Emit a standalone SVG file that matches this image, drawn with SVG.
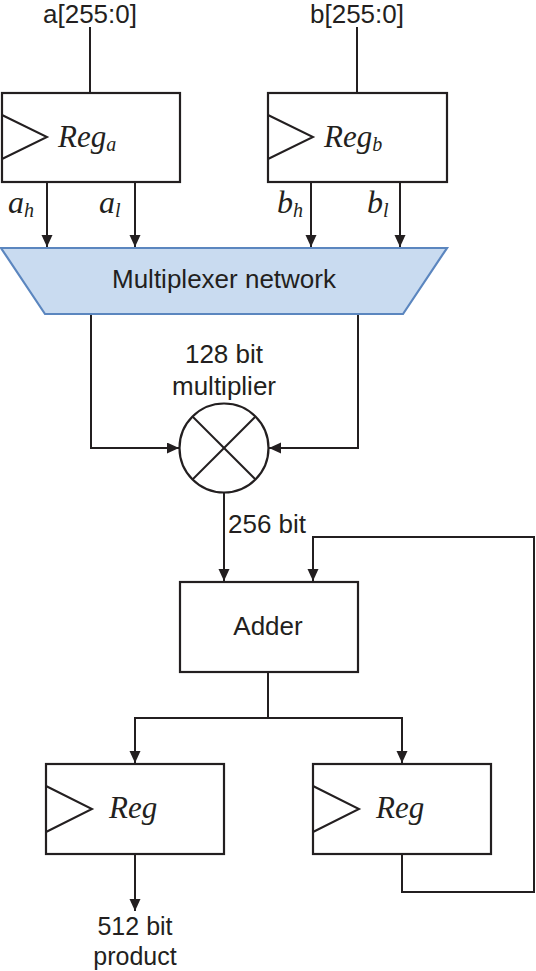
<svg xmlns="http://www.w3.org/2000/svg" width="536" height="971" viewBox="0 0 536 971">
<defs>
<style>
.box{fill:#fff;stroke:#231f20;stroke-width:2.2}
.clk{fill:none;stroke:#231f20;stroke-width:2}
.w{fill:none;stroke:#231f20;stroke-width:2}
.t{font-family:"Liberation Sans",Arial,sans-serif;font-size:26px;fill:#231f20}
.o{font-size:25px}
.m{font-family:"Liberation Serif","Times New Roman",serif;font-style:italic;font-size:31px;fill:#231f20}
.l{font-family:"Liberation Serif","Times New Roman",serif;font-style:italic;font-size:32px;fill:#231f20}
.s{font-size:20px}
</style>
<marker id="ah" markerWidth="13" markerHeight="12" refX="12" refY="5.5" orient="auto" markerUnits="userSpaceOnUse">
<path d="M0,0 L12,5.5 L0,11 Z" fill="#231f20"/>
</marker>
</defs>
<rect width="536" height="971" fill="#fff"/>

<g id="connectors">
<line class="w" x1="90" y1="27" x2="90" y2="93"/>
<line class="w" x1="357" y1="27" x2="357" y2="93"/>
<line class="w" x1="47" y1="182" x2="47" y2="247" marker-end="url(#ah)"/>
<line class="w" x1="135" y1="182" x2="135" y2="247" marker-end="url(#ah)"/>
<line class="w" x1="311" y1="182" x2="311" y2="247" marker-end="url(#ah)"/>
<line class="w" x1="400" y1="182" x2="400" y2="247" marker-end="url(#ah)"/>
<polyline class="w" points="91,314 91,448 179,448" marker-end="url(#ah)"/>
<polyline class="w" points="358,314 358,448 269,448" marker-end="url(#ah)"/>
<line class="w" x1="224" y1="493" x2="224" y2="581" marker-end="url(#ah)"/>
<polyline class="w" points="402,854 402,892 534,892 534,537 313,537 313,581" marker-end="url(#ah)"/>
<line class="w" x1="268" y1="672" x2="268" y2="718"/>
<polyline class="w" points="135,718 402,718"/>
<line class="w" x1="135" y1="717" x2="135" y2="763" marker-end="url(#ah)"/>
<line class="w" x1="402" y1="717" x2="402" y2="763" marker-end="url(#ah)"/>
<line class="w" x1="135" y1="855" x2="135" y2="911" marker-end="url(#ah)"/>
<text class="l" x="8" y="213">a<tspan class="s" dy="4">h</tspan></text>
<text class="l" x="99" y="213">a<tspan class="s" dy="4">l</tspan></text>
<text class="l" x="277" y="213">b<tspan class="s" dy="4">h</tspan></text>
<text class="l" x="367" y="213">b<tspan class="s" dy="4">l</tspan></text>
<text class="t" x="228" y="533">256 bit</text>
</g>

<g id="input-a">
<text class="t" x="90" y="23" text-anchor="middle">a[255:0]</text>
</g>
<g id="input-b">
<text class="t" x="357" y="23" text-anchor="middle">b[255:0]</text>
</g>

<g id="reg-a">
<rect class="box" x="2" y="93" width="178" height="89"/>
<polyline class="clk" points="2,115 47,137 2,159"/>
<text class="m" x="58" y="147">Reg<tspan class="s" dy="4">a</tspan></text>
</g>

<g id="reg-b">
<rect class="box" x="268" y="93" width="179" height="89"/>
<polyline class="clk" points="268,115 313,137 268,159"/>
<text class="m" x="324" y="147">Reg<tspan class="s" dy="4">b</tspan></text>
</g>

<g id="mux">
<polygon points="1,248 447,248 403,314 45,314" fill="#c9dbf0" stroke="#5b86bf" stroke-width="2.2"/>
<text class="t" x="224" y="288" text-anchor="middle">Multiplexer network</text>
</g>

<g id="multiplier">
<circle cx="224" cy="448" r="44.5" fill="#fff" stroke="#231f20" stroke-width="2.2"/>
<line class="w" x1="192.5" y1="416.5" x2="255.5" y2="479.5"/>
<line class="w" x1="255.5" y1="416.5" x2="192.5" y2="479.5"/>
<text class="t" x="224" y="363" text-anchor="middle">128 bit</text>
<text class="t" x="224" y="395" text-anchor="middle">multiplier</text>
</g>

<g id="adder">
<rect class="box" x="180" y="582" width="178" height="90"/>
<text class="t" x="268" y="635" text-anchor="middle">Adder</text>
</g>

<g id="reg-out">
<rect class="box" x="46" y="764" width="178" height="90"/>
<polyline class="clk" points="46,786 92,809 46,832"/>
<text class="m" x="109" y="818">Reg</text>
</g>

<g id="reg-acc">
<rect class="box" x="313" y="764" width="178" height="90"/>
<polyline class="clk" points="313,786 359,809 313,832"/>
<text class="m" x="376" y="818">Reg</text>
</g>

<g id="output">
<text class="t o" x="135" y="935" text-anchor="middle">512 bit</text>
<text class="t o" x="135" y="965" text-anchor="middle">product</text>
</g>
</svg>
